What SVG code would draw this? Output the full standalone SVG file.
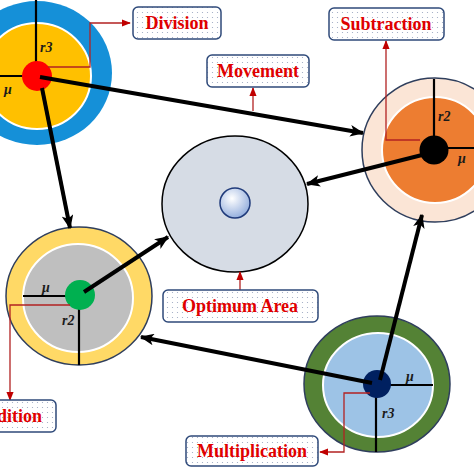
<svg xmlns="http://www.w3.org/2000/svg" width="474" height="474" viewBox="0 0 474 474">
<defs>
<pattern id="dots" width="5" height="5" patternUnits="userSpaceOnUse">
<rect width="5" height="5" fill="#ffffff"/>
<circle cx="2.5" cy="2.5" r="0.6" fill="#9aa6c0"/>
</pattern>
<radialGradient id="core" cx="40%" cy="35%" r="70%">
<stop offset="0" stop-color="#ffffff"/>
<stop offset="1" stop-color="#8eaadb"/>
</radialGradient>
<marker id="ah" viewBox="0 0 12 10" refX="11" refY="5" markerWidth="14" markerHeight="12" markerUnits="userSpaceOnUse" orient="auto">
<path d="M0,0 L12,5 L0,10 L3,5 Z" fill="#000"/>
</marker>
<marker id="rh" viewBox="0 0 10 8" refX="9" refY="4" markerWidth="9" markerHeight="8" markerUnits="userSpaceOnUse" orient="auto">
<path d="M0,0 L10,4 L0,8 Z" fill="#c00000"/>
</marker>
</defs>
<style>
.box{fill:url(#dots);stroke:#2f4a7a;stroke-width:1.5}
.lbl{font-family:"Liberation Serif",serif;font-weight:bold;font-size:18px;fill:#e00000;text-anchor:middle}
.sym{font-family:"Liberation Serif",serif;font-weight:bold;font-style:italic;font-size:14px;fill:#1a1a1a}
.rad{stroke:#000;stroke-width:2.2}
.conn{stroke:#000;stroke-width:4;fill:none;marker-end:url(#ah)}
.red{stroke:#b22222;stroke-width:1.3;fill:none;marker-end:url(#rh)}
</style>

<g id="optimum">
<ellipse cx="235" cy="204" rx="73" ry="68" fill="#d6dce5" stroke="#000" stroke-width="1.5"/>
<circle cx="235" cy="203" r="15" fill="url(#core)" stroke="#1f3a7a" stroke-width="1.5"/>
</g>

<g id="division-node">
<ellipse cx="37" cy="73" rx="75" ry="72" fill="#1590d8"/>
<ellipse cx="37" cy="76" rx="54" ry="53" fill="#ffc000" stroke="#ffffff" stroke-width="2"/>
<line class="rad" x1="36" y1="0" x2="36" y2="76"/>
<line class="rad" x1="0" y1="76" x2="37" y2="76"/>
<circle cx="37" cy="76" r="15" fill="#ff0000"/>
<text class="sym" x="40" y="52">r3</text>
<text class="sym" x="4" y="94">μ</text>
</g>

<g id="subtraction-node">
<ellipse cx="435" cy="150" rx="73" ry="72" fill="#fbe5d6" stroke="#2f3e5c" stroke-width="1.5"/>
<circle cx="435" cy="150" r="53" fill="#ed7d31" stroke="#ffffff" stroke-width="2"/>
<line class="rad" x1="434" y1="79" x2="434" y2="150"/>
<line class="rad" x1="434" y1="148" x2="474" y2="148"/>
<circle cx="434" cy="150" r="14.5" fill="#000"/>
<text class="sym" x="438" y="121">r2</text>
<text class="sym" x="458" y="163">μ</text>
</g>

<g id="addition-node">
<ellipse cx="79" cy="296" rx="73" ry="69" fill="#ffd966" stroke="#2f3e5c" stroke-width="1.5"/>
<ellipse cx="78" cy="298" rx="55" ry="54" fill="#bfbfbf" stroke="#ffffff" stroke-width="2"/>
<line class="rad" x1="23" y1="296" x2="80" y2="296"/>
<line class="rad" x1="79" y1="296" x2="79" y2="365"/>
<circle cx="80" cy="295" r="15" fill="#00b050"/>
<text class="sym" x="42" y="292">μ</text>
<text class="sym" x="62" y="325">r2</text>
</g>

<g id="multiplication-node">
<ellipse cx="377" cy="384" rx="73" ry="68" fill="#548235" stroke="#2f3e5c" stroke-width="1.5"/>
<ellipse cx="378" cy="385" rx="55" ry="52" fill="#9dc3e6" stroke="#ffffff" stroke-width="2"/>
<line class="rad" x1="377" y1="385" x2="433" y2="385"/>
<line class="rad" x1="376" y1="385" x2="376" y2="452"/>
<circle cx="377" cy="384" r="14" fill="#002060"/>
<text class="sym" x="406" y="381">μ</text>
<text class="sym" x="382" y="418">r3</text>
</g>

<g id="connectors">
<line class="conn" x1="40" y1="77" x2="363" y2="133"/>
<line class="conn" x1="42" y1="88" x2="70" y2="228"/>
<line class="conn" x1="84" y1="292" x2="168" y2="237"/>
<line class="conn" x1="430" y1="153" x2="307" y2="184"/>
<line class="conn" x1="380" y1="380" x2="422" y2="215"/>
<line class="conn" x1="372" y1="383" x2="141" y2="337"/>
<path class="red" d="M48,67 H90 V23 H130"/>
<path class="red" d="M253,111 V88"/>
<path class="red" d="M420,140 H386 V41"/>
<path class="red" d="M240,290 V272"/>
<path class="red" d="M70,305 H10 V400"/>
<path class="red" d="M370,393 H344 V452 H320"/>
</g>

<g id="division-box">
<rect class="box" x="133" y="7" width="88" height="32" rx="5"/>
<text class="lbl" x="177" y="29">Division</text>
</g>
<g id="movement-box">
<rect class="box" x="207" y="55" width="102" height="32" rx="5"/>
<text class="lbl" x="258" y="77">Movement</text>
</g>
<g id="subtraction-box">
<rect class="box" x="329" y="8" width="115" height="32" rx="5"/>
<text class="lbl" x="386" y="30">Subtraction</text>
</g>
<g id="optimum-box">
<rect class="box" x="163" y="290" width="155" height="32" rx="5"/>
<text class="lbl" x="240" y="312">Optimum Area</text>
</g>
<g id="addition-box">
<rect class="box" x="-40" y="400" width="96" height="32" rx="5"/>
<text class="lbl" x="8" y="422">Addition</text>
</g>
<g id="multiplication-box">
<rect class="box" x="186" y="436" width="132" height="30" rx="5"/>
<text class="lbl" x="252" y="457">Multiplication</text>
</g>
</svg>
